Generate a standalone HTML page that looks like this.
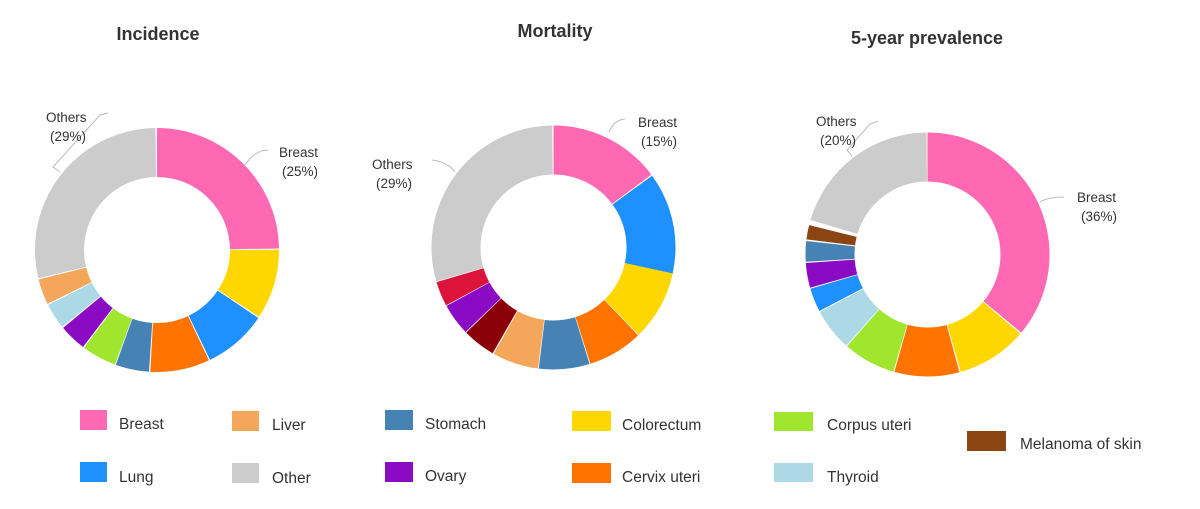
<!DOCTYPE html>
<html><head><meta charset="utf-8"><style>
html,body{margin:0;padding:0;background:#fff;width:1200px;height:509px;overflow:hidden}
svg{display:block}
text{font-family:"Liberation Sans",sans-serif;fill:#333}
.t{font-weight:bold;font-size:18px;fill:#333}
.l{font-size:13.5px}
.g{font-size:15.5px}
</style></head><body>
<svg width="1200" height="509" viewBox="0 0 1200 509">
<defs></defs>
<text class="t" x="158" y="40" text-anchor="middle">Incidence</text>
<text class="t" x="555" y="37" text-anchor="middle">Mortality</text>
<text class="t" x="927" y="44" text-anchor="middle">5-year prevalence</text>

<!-- Chart 1 center 157,250 -->
<g transform="translate(157,250) rotate(-90)" fill="none" stroke-width="49">
<circle r="97.5" pathLength="360" stroke="#ff69b4" stroke-dasharray="89.4 360" stroke-dashoffset="0"/>
<circle r="97.5" pathLength="360" stroke="#ffd700" stroke-dasharray="33.4 360" stroke-dashoffset="-90"/>
<circle r="97.5" pathLength="360" stroke="#1e90ff" stroke-dasharray="30.4 360" stroke-dashoffset="-124"/>
<circle r="97.5" pathLength="360" stroke="#ff7400" stroke-dasharray="28.4 360" stroke-dashoffset="-155"/>
<circle r="97.5" pathLength="360" stroke="#4682b4" stroke-dasharray="16 360" stroke-dashoffset="-184"/>
<circle r="97.5" pathLength="360" stroke="#a0e62e" stroke-dasharray="16.6 360" stroke-dashoffset="-200.4"/>
<circle r="97.5" pathLength="360" stroke="#8b0ac4" stroke-dasharray="13 360" stroke-dashoffset="-217.6"/>
<circle r="97.5" pathLength="360" stroke="#add8e6" stroke-dasharray="12.3 360" stroke-dashoffset="-231.2"/>
<circle r="97.5" pathLength="360" stroke="#f4a65a" stroke-dasharray="12.2 360" stroke-dashoffset="-244.1"/>
<circle r="97.5" pathLength="360" stroke="#cccccc" stroke-dasharray="102.8 360" stroke-dashoffset="-256.9"/>
</g>
<path d="M245 165 Q255 150 268 150" stroke="#bbb" fill="none"/>
<text class="l" x="279" y="157">Breast</text><text class="l" x="282" y="176">(25%)</text>
<path d="M60 172 L53 167 L100 115 L108 113" stroke="#bbb" fill="none"/>
<text class="l" x="46" y="122">Others</text><text class="l" x="50" y="141">(29%)</text>

<!-- Chart 2 center 553.5,247.5 -->
<g transform="translate(553.5,247.5) rotate(-90)" fill="none" stroke-width="49">
<circle r="97.5" pathLength="360" stroke="#ff69b4" stroke-dasharray="53.4 360" stroke-dashoffset="0"/>
<circle r="97.5" pathLength="360" stroke="#1e90ff" stroke-dasharray="48.8 360" stroke-dashoffset="-54"/>
<circle r="97.5" pathLength="360" stroke="#ffd700" stroke-dasharray="33.4 360" stroke-dashoffset="-102.4"/>
<circle r="97.5" pathLength="360" stroke="#ff7400" stroke-dasharray="26.4 360" stroke-dashoffset="-136.2"/>
<circle r="97.5" pathLength="360" stroke="#4682b4" stroke-dasharray="24.2 360" stroke-dashoffset="-163"/>
<circle r="97.5" pathLength="360" stroke="#f4a65a" stroke-dasharray="22 360" stroke-dashoffset="-187.6"/>
<circle r="97.5" pathLength="360" stroke="#8b0008" stroke-dasharray="15.8 360" stroke-dashoffset="-210.2"/>
<circle r="97.5" pathLength="360" stroke="#8b0ac4" stroke-dasharray="15.2 360" stroke-dashoffset="-226.4"/>
<circle r="97.5" pathLength="360" stroke="#dc143c" stroke-dasharray="11.8 360" stroke-dashoffset="-242"/>
<circle r="97.5" pathLength="360" stroke="#cccccc" stroke-dasharray="105.6 360" stroke-dashoffset="-254.2"/>
</g>
<path d="M609 132 Q614 120 625 119" stroke="#bbb" fill="none"/>
<text class="l" x="638" y="127">Breast</text><text class="l" x="641" y="146">(15%)</text>
<path d="M455 172 Q448 162 432 160" stroke="#bbb" fill="none"/>
<text class="l" x="372" y="169">Others</text><text class="l" x="376" y="188">(29%)</text>

<!-- Chart 3 center 927.5,254.5 -->
<g transform="translate(927.5,254.5) rotate(-90)" fill="none" stroke-width="49">
<circle r="97.5" pathLength="360" stroke="#ff69b4" stroke-dasharray="130 360" stroke-dashoffset="0"/>
<circle r="97.5" pathLength="360" stroke="#ffd700" stroke-dasharray="33.8 360" stroke-dashoffset="-130.6"/>
<circle r="97.5" pathLength="360" stroke="#ff7400" stroke-dasharray="31 360" stroke-dashoffset="-165"/>
<circle r="97.5" pathLength="360" stroke="#a0e62e" stroke-dasharray="25 360" stroke-dashoffset="-196.5"/>
<circle r="97.5" pathLength="360" stroke="#add8e6" stroke-dasharray="20.2 360" stroke-dashoffset="-222"/>
<circle r="97.5" pathLength="360" stroke="#1e90ff" stroke-dasharray="11.3 360" stroke-dashoffset="-242.7"/>
<circle r="97.5" pathLength="360" stroke="#8b0ac4" stroke-dasharray="11.8 360" stroke-dashoffset="-254.5"/>
<circle r="97.5" pathLength="360" stroke="#4682b4" stroke-dasharray="9.8 360" stroke-dashoffset="-266.9"/>
<circle r="97.5" pathLength="360" stroke="#8b4513" stroke-dasharray="6.8 360" stroke-dashoffset="-277.5"/>
<circle r="97.5" pathLength="360" stroke="#cccccc" stroke-dasharray="73.2 360" stroke-dashoffset="-286.8"/>
</g>
<path d="M1040 202 Q1048 197 1064 197" stroke="#bbb" fill="none"/>
<text class="l" x="1077" y="202">Breast</text><text class="l" x="1081" y="221">(36%)</text>
<path d="M852 156 L847 150 L870 124 L878 121" stroke="#bbb" fill="none"/>
<text class="l" x="816" y="126">Others</text><text class="l" x="820" y="145">(20%)</text>

<!-- Legend -->
<rect x="80" y="410" width="27" height="20" fill="#ff69b4"/><text class="g" x="119" y="429">Breast</text>
<rect x="232" y="411" width="27" height="20" fill="#f4a65a"/><text class="g" x="272" y="430">Liver</text>
<rect x="385" y="410" width="28" height="20" fill="#4682b4"/><text class="g" x="425" y="429">Stomach</text>
<rect x="572" y="411" width="39" height="20" fill="#ffd700"/><text class="g" x="622" y="430">Colorectum</text>
<rect x="774" y="412" width="39" height="19" fill="#a0e62e"/><text class="g" x="827" y="430">Corpus uteri</text>
<rect x="967" y="431" width="39" height="20" fill="#8b4513"/><text class="g" x="1020" y="449">Melanoma of skin</text>
<rect x="80" y="462" width="27" height="20" fill="#1e90ff"/><text class="g" x="119" y="482">Lung</text>
<rect x="232" y="463" width="27" height="20" fill="#cccccc"/><text class="g" x="272" y="483">Other</text>
<rect x="385" y="462" width="28" height="20" fill="#8b0ac4"/><text class="g" x="425" y="481">Ovary</text>
<rect x="572" y="463" width="39" height="20" fill="#ff7400"/><text class="g" x="622" y="482">Cervix uteri</text>
<rect x="774" y="463" width="39" height="19" fill="#add8e6"/><text class="g" x="827" y="482">Thyroid</text>
</svg>
</body></html>
